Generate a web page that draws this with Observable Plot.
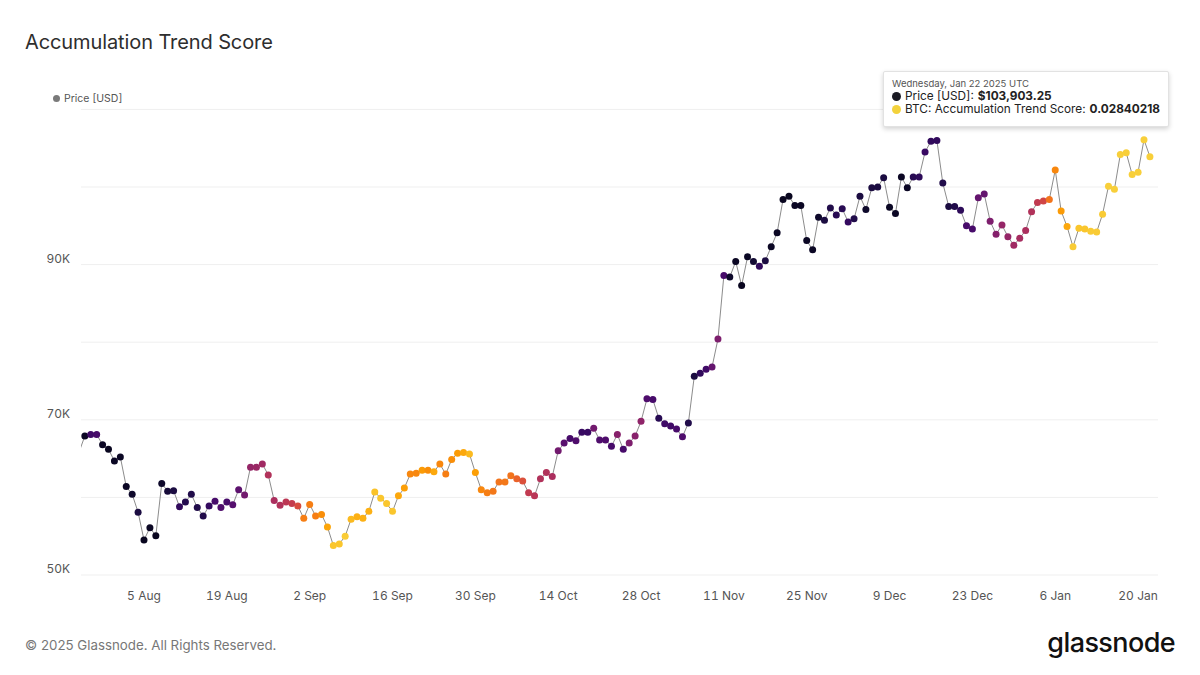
<!DOCTYPE html>
<html>
<head>
<meta charset="utf-8">
<script src="https://cdn.jsdelivr.net/npm/d3@7"></script>
<script src="https://cdn.jsdelivr.net/npm/@observablehq/plot@0.6"></script>
<style>
  body { margin: 0; background: #fff; font-family: Inter, "Noto Sans", sans-serif; }
  #wrap { position: relative; width: 1200px; height: 675px; overflow: hidden; background: #fff; }
  #header { position: relative; height: 100px; }
  #title { position: absolute; left: 25px; top: 30px; font-size: 20px; color: #2e2e2e; font-weight: 400; letter-spacing: -0.1px; }
  #legend { position: absolute; left: 53px; top: 92px; font-size: 10.5px; color: #555; display: flex; align-items: center; }
  #legend .dot { width: 7px; height: 7px; border-radius: 50%; background: #7a7a7a; margin-right: 4px; display: inline-block; }
  #chart { position: relative; height: 520px; }
  #footer { position: relative; height: 55px; }
  #copy { position: absolute; left: 25px; top: 17px; font-size: 13.3px; color: #777; }
  #logo { position: absolute; right: 25px; top: 6px; font-size: 27px; color: #111; font-weight: 500; letter-spacing: -0.6px; }
  #tooltip { position: absolute; left: 883px; top: 71px; width: 286px; height: 56px; background: #fff;
             border: 1px solid #e2e2e2; box-shadow: 0 2px 5px rgba(0,0,0,0.18); border-radius: 2px; box-sizing: border-box; padding: 6px 0 0 8px; }
  #tooltip .date { font-size: 9.5px; color: #555; line-height: 12px; }
  #tooltip .row { font-size: 11.8px; color: #222; line-height: 13px; display: flex; align-items: center; white-space: nowrap; }
  #tooltip .row .d { width: 9px; height: 9px; border-radius: 50%; margin-right: 4px; display: inline-block; }
  #tooltip b { font-weight: 700; margin-left: 4px; }
</style>
</head>
<body>
<div id="wrap">
  <div id="header">
    <div id="title">Accumulation Trend Score</div>
    <div id="legend"><span class="dot"></span>Price [USD]</div>
  </div>
  <div id="chart"></div>
  <div id="footer">
    <div id="copy">© 2025 Glassnode. All Rights Reserved.</div>
    <div id="logo">glassnode</div>
  </div>
  <div id="tooltip">
    <div class="date">Wednesday, Jan 22 2025 UTC</div>
    <div class="row"><span class="d" style="background:#1b1b24"></span>Price [USD]:<b>$103,903.25</b></div>
    <div class="row"><span class="d" style="background:#f3d23c"></span>BTC: Accumulation Trend Score:<b>0.02840218</b></div>
  </div>
</div>
<script>
// ---- Data (daily, starting 2024-07-25 UTC) ----
const startDate = "2024-07-25";

const prices = [
  65800, 67900, 68100, 68100, 66800, 66200, 64700,                     // Jul 25-31
  65200, 61400, 60400, 58100, 54500, 56100, 55050, 61800, 60800, 60850, // Aug 1-10
  58800, 59400, 60400, 58700, 57600, 58900, 59500, 58700, 59400, 59050, // Aug 11-20
  61000, 60300, 63900, 63900, 64300, 62900, 59600, 59000, 59400, 59200, 58900, // Aug 21-31
  57300, 59100, 57600, 57800, 56200, 53800, 54000, 55000, 57200, 57500, // Sep 1-10
  57300, 58200, 60700, 59900, 59200, 58200, 60200, 61200, 63000, 63100, // Sep 11-20
  63500, 63500, 63300, 64300, 63000, 64900, 65700, 65800, 65600, 63200, // Sep 21-30
  61000, 60600, 60800, 62000, 62000, 62800, 62400, 62100, 60600, 60200, // Oct 1-10
  62400, 63200, 62700, 66000, 67000, 67600, 67300, 68400, 68400, 68900, // Oct 11-20
  67400, 67400, 66600, 68100, 66200, 67000, 67900, 69800, 72700, 72600, 70200, // Oct 21-31
  69500, 69200, 68800, 67800, 69600, 75600, 76000, 76500, 76800, 80400, // Nov 1-10
  88600, 88400, 90400, 87300, 91000, 90400, 89800, 90500, 92300, 94100, // Nov 11-20
  98400, 98800, 97600, 97600, 93100, 91900, 96100, 95700, 97300, 96400, // Nov 21-30
  97200, 95500, 95900, 98800, 97100, 99900, 100000, 101200, 97400, 96600, // Dec 1-10
  101300, 99900, 101300, 101300, 104500, 105900, 106000, 100500, 97500, 97500, // Dec 11-20
  97000, 95000, 94600, 98600, 99100, 95600, 93900, 95100, 93600, 92500, 93400, // Dec 21-31
  94400, 96800, 98000, 98200, 98400, 102200, 96900, 94900, 92300, 94700, // Jan 1-10
  94600, 94300, 94200, 96500, 100100, 99700, 104200, 104400, 101600, 101900, // Jan 11-20
  106100, 103903.25                                                     // Jan 21-22
];

const scores = [
  0.95, 0.97, 0.82, 0.80, 0.97, 0.98, 0.97,                             // Jul 25-31
  0.97, 0.97, 0.96, 0.92, 0.98, 0.97, 0.98, 0.96, 0.93, 0.92,           // Aug 1-10
  0.86, 0.89, 0.90, 0.90, 0.90, 0.85, 0.80, 0.78, 0.80, 0.76,           // Aug 11-20
  0.74, 0.68, 0.58, 0.57, 0.55, 0.50, 0.52, 0.50, 0.47, 0.44, 0.38,     // Aug 21-31
  0.22, 0.22, 0.22, 0.18, 0.13, 0.05, 0.05, 0.04, 0.08, 0.10,           // Sep 1-10
  0.10, 0.10, 0.06, 0.05, 0.05, 0.05, 0.12, 0.14, 0.20, 0.20,           // Sep 11-20
  0.15, 0.18, 0.12, 0.20, 0.22, 0.18, 0.15, 0.12, 0.08, 0.14,           // Sep 21-30
  0.20, 0.22, 0.24, 0.25, 0.24, 0.25, 0.30, 0.36, 0.45, 0.48,           // Oct 1-10
  0.50, 0.50, 0.52, 0.68, 0.75, 0.80, 0.78, 0.84, 0.84, 0.68,           // Oct 11-20
  0.78, 0.78, 0.80, 0.62, 0.80, 0.65, 0.62, 0.60, 0.78, 0.80, 0.88,     // Oct 21-31
  0.82, 0.82, 0.80, 0.78, 0.90, 0.92, 0.86, 0.82, 0.72, 0.65,           // Nov 1-10
  0.80, 0.96, 0.97, 0.98, 0.97, 0.94, 0.86, 0.92, 0.97, 0.97,           // Nov 11-20
  0.98, 0.98, 0.97, 0.97, 0.97, 0.97, 0.96, 0.92, 0.90, 0.88,           // Nov 21-30
  0.88, 0.85, 0.90, 0.92, 0.96, 0.92, 0.92, 0.92, 0.97, 0.97,           // Dec 1-10
  0.97, 0.97, 0.88, 0.87, 0.84, 0.86, 0.86, 0.90, 0.92, 0.90,           // Dec 11-20
  0.87, 0.80, 0.80, 0.72, 0.72, 0.65, 0.63, 0.58, 0.58, 0.55, 0.53,     // Dec 21-31
  0.52, 0.50, 0.45, 0.40, 0.25, 0.20, 0.15, 0.12, 0.04, 0.05,           // Jan 1-10
  0.05, 0.04, 0.04, 0.04, 0.03, 0.03, 0.03, 0.03, 0.03, 0.03,           // Jan 11-20
  0.03, 0.02840218                                                      // Jan 21-22
];

const xTickDates = ["2024-08-05", "2024-08-19", "2024-09-02", "2024-09-16", "2024-09-30",
  "2024-10-14", "2024-10-28", "2024-11-11", "2024-11-25", "2024-12-09", "2024-12-23",
  "2025-01-06", "2025-01-20"];
const yGridValues = [50000, 60000, 70000, 80000, 90000, 100000, 110000];
const yLabelValues = [50000, 70000, 90000];
const xDomain = ["2024-07-25T10:30:00Z", "2025-01-23T10:50:00Z"];
const yDomain = [50000, 110000];
const firstDotDate = "2024-07-26";

// ---- Build table ----
const start = new Date(startDate + "T00:00:00Z");
const data = prices.map((p, i) => ({ date: d3.utcDay.offset(start, i), price: p, score: scores[i] }));
const dotData = data.filter(d => d.date >= new Date(firstDotDate + "T00:00:00Z"));

// high score (accumulation) -> dark, low score -> yellow
const chart = Plot.plot({
  width: 1200,
  height: 520,
  marginLeft: 81,
  marginRight: 42,
  marginTop: 8.9,
  marginBottom: 45.5,
  style: { fontFamily: "Inter, 'Noto Sans', sans-serif", background: "transparent" },
  x: { type: "utc", domain: xDomain.map(d => new Date(d)) },
  y: { domain: yDomain },
  color: { type: "linear", domain: [0, 1], interpolate: t => d3.interpolateInferno(0.91 - 0.87 * t) },
  marks: [
    Plot.gridY(yGridValues, { stroke: "#efefef", strokeOpacity: 1, strokeWidth: 1 }),
    Plot.axisY(yLabelValues, { tickSize: 0, tickPadding: 35, textAnchor: "start", dy: -5.5,
      tickFormat: d => d / 1000 + "K", fontSize: 12, fill: "#555", label: null }),
    Plot.axisX(xTickDates.map(d => new Date(d + "T00:00:00Z")), { tickSize: 0, tickPadding: 16,
      tickFormat: d3.utcFormat("%-d %b"), fontSize: 12, fill: "#555", label: null }),
    Plot.line(data, { x: "date", y: "price", stroke: "#8c8c8c", strokeWidth: 1, clip: true }),
    Plot.dot(dotData, { x: "date", y: "price", r: 3.5, fill: "score", stroke: "none" })
  ]
});
document.getElementById("chart").appendChild(chart);
</script>
</body>
</html>
